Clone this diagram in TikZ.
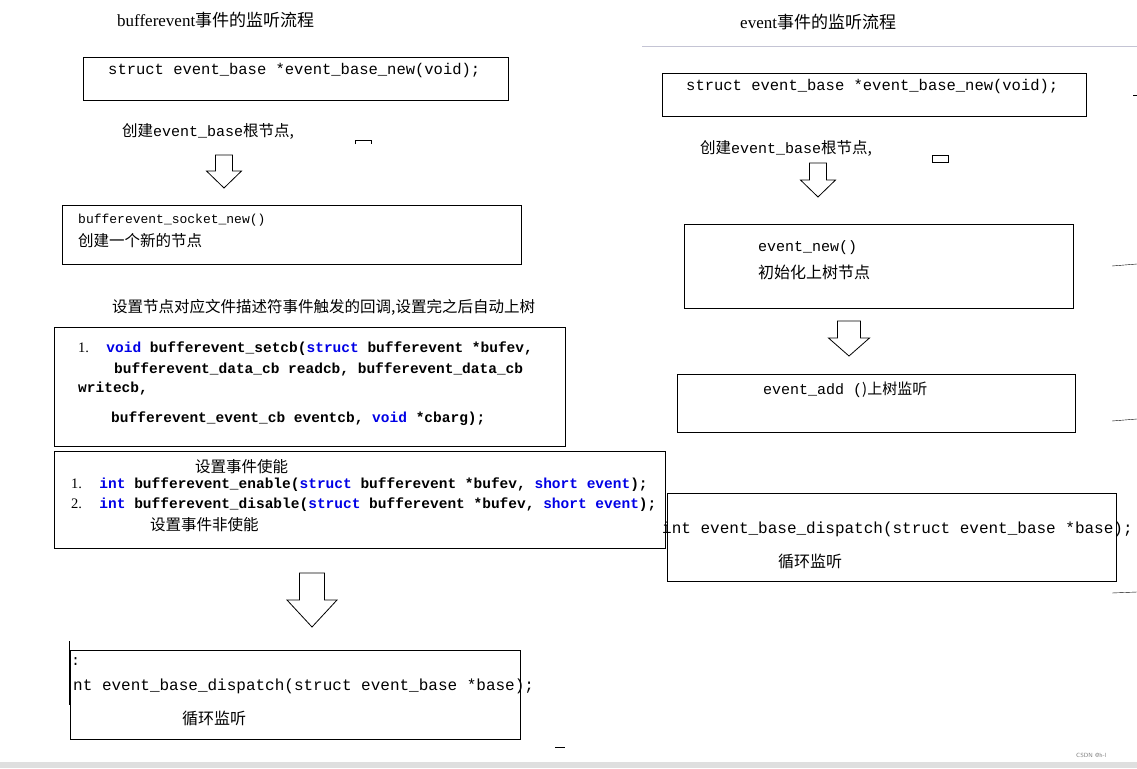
\documentclass[tikz,border=0pt]{standalone}
\usepackage{fontspec}
\setmainfont{Liberation Serif}
\setmonofont{Liberation Mono}
\newfontfamily\cjk{Noto Sans CJK SC}
\definecolor{kw}{RGB}{0,0,230}
\newcommand\harrow[7]{% cx, top, headtop, bottom, half shaft, half head
  \draw[line width=0.8pt] (#1-#5,#2) -- (#1+#5,#2) -- (#1+#5,#3) -- (#1+#6,#3) -- (#1,#4) -- (#1-#6,#3) -- (#1-#5,#3) -- cycle;}
\begin{document}
\begin{tikzpicture}[x=1pt,y=-1pt,
  box/.style={draw,line width=0.8pt},
  txt/.style={anchor=west,inner sep=0pt},
  cn/.style={txt,font=\cjk\fontsize{15.5}{17}\selectfont}]
\useasboundingbox (0,0) rectangle (1137,768);
\fill[white] (0,0) rectangle (1137,768);
\fill[gray!25] (0,762) rectangle (1137,768);
\node[txt,font=\sffamily\fontsize{6}{7}\selectfont,text=gray] (csdn) at (1076,755) {CSDN @h-l};
% ---------- left ----------
\node[txt,font=\fontsize{17}{19}\selectfont] (tl) at (117,20) {bufferevent{\cjk 事件的监听流程}};
\draw[box] (83,57) rectangle (508,100);
\node[txt,font=\ttfamily\fontsize{15.5}{17}\selectfont] (l1) at (108,70) {struct event\_base *event\_base\_new(void);};
\node[cn] (l1c) at (122,131) {创建{\ttfamily\fontsize{15}{17}\selectfont event\_base}根节点,};
\draw (355,144) -- (355,140) -- (371,140) -- (371,144);
\harrow{224}{155}{171}{188}{8.5}{17.5}{}
\draw[box] (62,205) rectangle (521,264);
\node[txt,font=\ttfamily\fontsize{13}{15}\selectfont] (l2) at (78,220) {bufferevent\_socket\_new()};
\node[cn] (l2c) at (78,241) {创建一个新的节点};
\node[cn] (l3c) at (112,307) {设置节点对应文件描述符事件触发的回调,设置完之后自动上树};
\draw[box] (54,327) rectangle (565,446);
\begin{scope}[every node/.style={txt,font=\ttfamily\bfseries\fontsize{14.5}{16}\selectfont}]
\node (s1) at (78,349) {{\rmfamily\mdseries 1.}\ \ \textcolor{kw}{void} bufferevent\_setcb(\textcolor{kw}{struct} bufferevent *bufev,};
\node (s2) at (114,369) {bufferevent\_data\_cb readcb, bufferevent\_data\_cb};
\node (s3) at (78,389) {writecb,};
\node (s4) at (111,419) {bufferevent\_event\_cb eventcb, \textcolor{kw}{void} *cbarg);};
\end{scope}
\draw[box] (54,451) rectangle (665,548);
\node[cn] (e0) at (195,467) {设置事件使能};
\begin{scope}[every node/.style={txt,font=\ttfamily\bfseries\fontsize{14.5}{16}\selectfont}]
\node (e1) at (71,485) {{\rmfamily\mdseries 1.}\ \ \textcolor{kw}{int} bufferevent\_enable(\textcolor{kw}{struct} bufferevent *bufev, \textcolor{kw}{short} \textcolor{kw}{event});};
\node (e2) at (71,505) {{\rmfamily\mdseries 2.}\ \ \textcolor{kw}{int} bufferevent\_disable(\textcolor{kw}{struct} bufferevent *bufev, \textcolor{kw}{short} \textcolor{kw}{event});};
\end{scope}
\node[cn] (e3) at (150,525) {设置事件非使能};
\harrow{312}{573}{600}{627}{12.5}{25}{}
\draw[box] (70,650) rectangle (520,739);
\draw[line width=1pt] (69,641) -- (69,705);
\node[txt,font=\ttfamily\fontsize{15}{17}\selectfont] (d0) at (71,662) {:};
\node[txt,font=\ttfamily\fontsize{16}{18}\selectfont] (d1) at (73,686) {nt event\_base\_dispatch(struct event\_base *base);};
\node[cn,font=\cjk\fontsize{16}{18}\selectfont] (d2) at (182,718) {循环监听};
\draw (555,747) -- (565,747);
% ---------- right ----------
\draw[color=blue!15!gray!40,line width=1pt] (642,47) -- (1137,47);
\node[txt,font=\fontsize{17}{19}\selectfont] (tr) at (740,22) {event{\cjk 事件的监听流程}};
\draw[box] (662,73) rectangle (1086,116);
\node[txt,font=\ttfamily\fontsize{15.5}{17}\selectfont] (r1) at (686,86) {struct event\_base *event\_base\_new(void);};
\node[cn] (r1c) at (700,148) {创建{\ttfamily\fontsize{15}{17}\selectfont event\_base}根节点,};
\draw (932,155) rectangle (948,162);
\harrow{818}{163}{180}{197}{8.5}{17.5}{}
\draw[box] (684,224) rectangle (1073,308);
\node[txt,font=\ttfamily\fontsize{15}{17}\selectfont] (r2) at (758,248) {event\_new()};
\node[cn,font=\cjk\fontsize{16}{18}\selectfont] (r2c) at (758,272) {初始化上树节点};
\harrow{849}{321}{338}{356}{11.5}{20.5}{}
\draw[box] (677,374) rectangle (1075,432);
\node[txt,font=\ttfamily\fontsize{15}{17}\selectfont] (r3) at (763,390) {event\_add ({\cjk )上树监听}};
\draw[box] (667,493) rectangle (1116,581);
\node[txt,font=\ttfamily\fontsize{16}{18}\selectfont] (r4) at (662,529) {int event\_base\_dispatch(struct event\_base *base);};
\node[cn,font=\cjk\fontsize{16}{18}\selectfont] (r4c) at (778,561) {循环监听};
\draw (1133,95) -- (1137,95);
\draw (1112,266) -- (1137,264);
\draw (1112,421) -- (1137,419);
\draw (1112,593) -- (1137,592);
\end{tikzpicture}
\end{document}
